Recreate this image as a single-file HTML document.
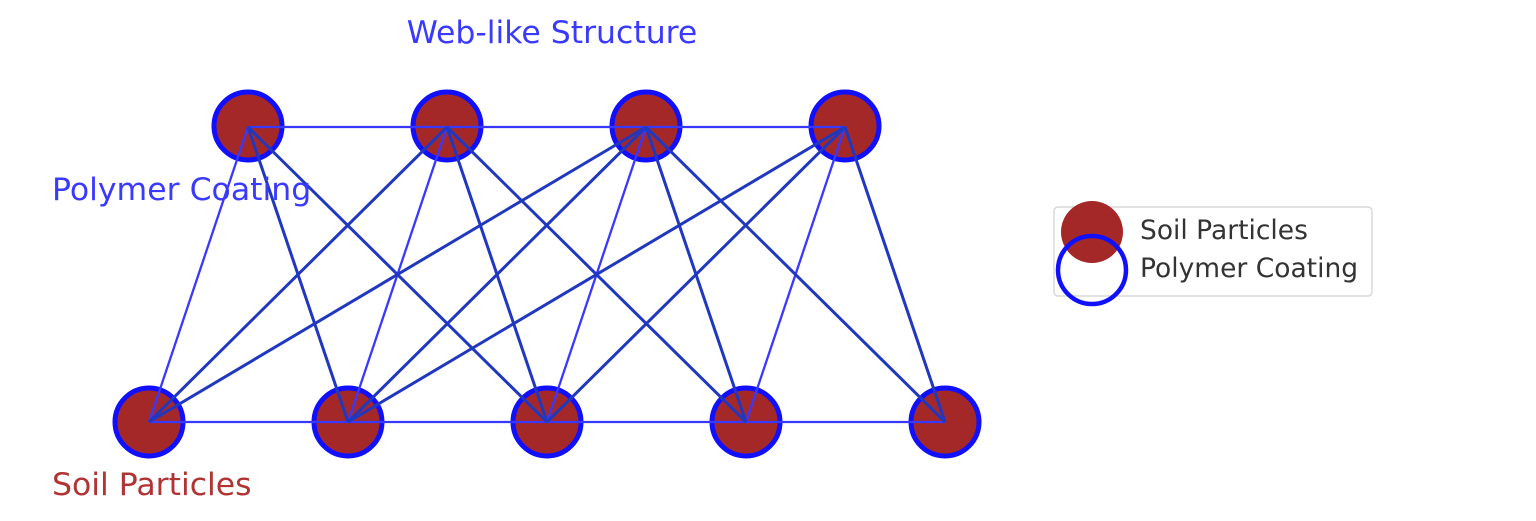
<!DOCTYPE html>
<html><head><style>
body{margin:0;background:#fff;}
svg{display:block}
text{font-family:"DejaVu Sans","Liberation Sans",sans-serif;}
</style></head><body>
<svg width="1536" height="521" viewBox="0 0 1536 521" xmlns="http://www.w3.org/2000/svg">
<text x="552" y="43" font-size="31.5" fill="#3a3aff" text-anchor="middle">Web-like Structure</text>
<g fill="#a52828" stroke="#1010ff" stroke-width="5">
<circle cx="248" cy="126" r="34"/><circle cx="447" cy="126" r="34"/><circle cx="646" cy="126" r="34"/><circle cx="845" cy="126" r="34"/>
<circle cx="149" cy="422" r="34"/><circle cx="348" cy="422" r="34"/><circle cx="547" cy="422" r="34"/><circle cx="746" cy="422" r="34"/><circle cx="945" cy="422" r="34"/>
</g>
<g stroke="#3838ff" stroke-width="2.3">
<line x1="248" y1="127" x2="845" y2="127"/>
<line x1="149" y1="422" x2="945" y2="422"/>
<line x1="248" y1="127" x2="149" y2="422"/>
<line x1="447" y1="127" x2="348" y2="422"/>
<line x1="646" y1="127" x2="547" y2="422"/>
<line x1="845" y1="127" x2="746" y2="422"/>
</g>
<g stroke="#2038c0" stroke-width="3">
<line x1="248" y1="127" x2="348" y2="422"/>
<line x1="248" y1="127" x2="547" y2="422"/>
<line x1="447" y1="127" x2="149" y2="422"/>
<line x1="447" y1="127" x2="547" y2="422"/>
<line x1="447" y1="127" x2="746" y2="422"/>
<line x1="646" y1="127" x2="149" y2="422"/>
<line x1="646" y1="127" x2="348" y2="422"/>
<line x1="646" y1="127" x2="746" y2="422"/>
<line x1="646" y1="127" x2="945" y2="422"/>
<line x1="845" y1="127" x2="348" y2="422"/>
<line x1="845" y1="127" x2="547" y2="422"/>
<line x1="845" y1="127" x2="945" y2="422"/>
</g>
<text x="52" y="200" font-size="31.5" fill="#3a3aff">Polymer Coating</text>
<text x="52" y="495" font-size="31.5" fill="#b03434">Soil Particles</text>
<rect x="1054" y="207" width="318" height="89" rx="4" fill="#fff" stroke="#d8d8d8" stroke-width="1.5"/>
<circle cx="1092" cy="232" r="31" fill="#a52828"/>
<circle cx="1092" cy="270" r="34" fill="none" stroke="#1010ff" stroke-width="4.5"/>
<text x="1140" y="239" font-size="26.5" fill="#333">Soil Particles</text>
<text x="1140" y="277" font-size="26.5" fill="#333">Polymer Coating</text>
</svg>
</body></html>
